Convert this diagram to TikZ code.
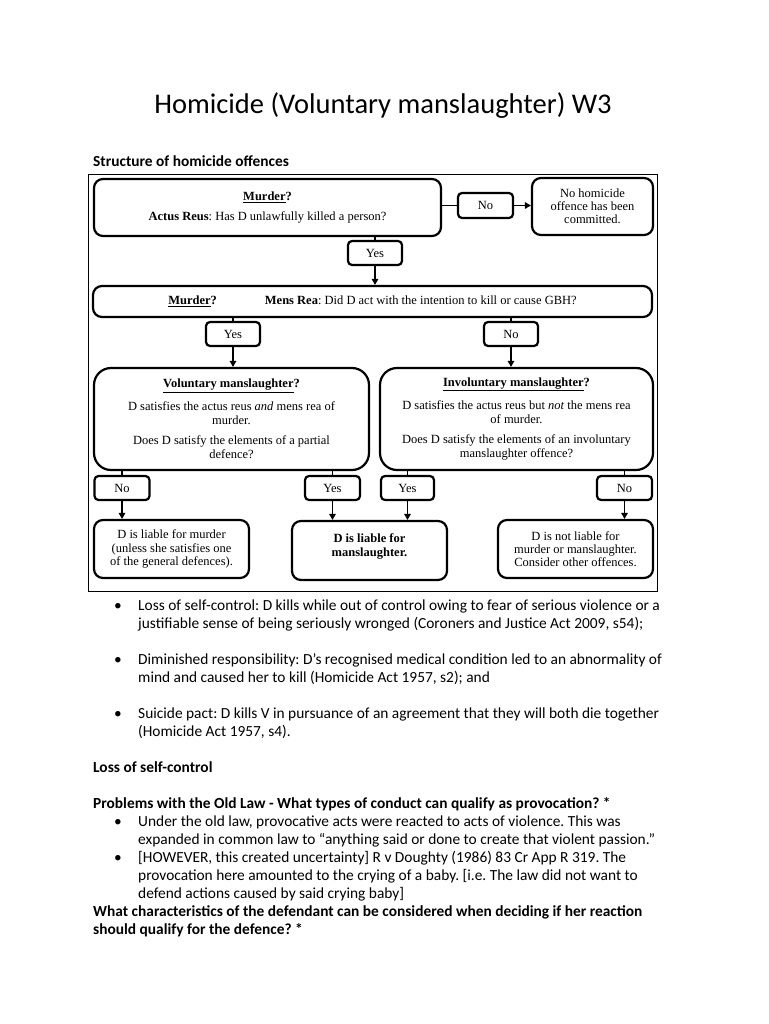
\documentclass[tikz,border=0pt]{standalone}
\usepackage{fontspec}
\setmainfont{Carlito}
\newfontfamily\ser{Liberation Serif}
\usetikzlibrary{arrows.meta}
\frenchspacing
\begin{document}
\begin{tikzpicture}[x=1pt,y=-1pt,
  fc/.style={font=\ser\fontsize{12.5}{13.5}\selectfont},
  box/.style={fc,draw,line width=2.2pt,rounded corners=9pt,align=center,inner sep=0pt},
  bigbox/.style={box,rounded corners=17pt},
  yn/.style={fc,draw,line width=2.2pt,rounded corners=4pt,minimum width=54pt,minimum height=24pt,inner sep=0pt},
  conn/.style={line width=1.7pt},
  arr/.style={line width=1.7pt,-{Triangle[length=6pt,width=6.5pt]}},
  body/.style={anchor=base west,font=\fontsize{15.4}{18}\selectfont,inner sep=0pt},
  bold/.style={body,font=\bfseries\fontsize{15.4}{18}\selectfont},
  bul/.style={anchor=base,font=\fontsize{15.4}{18}\selectfont,inner sep=0pt}
]
\fill[white] (0,0) rectangle (768,1024);
\useasboundingbox (0,0) rectangle (768,1024);

% title and heading
\node[anchor=base,inner sep=0pt,font=\fontsize{28.5}{32}\selectfont] (title) at (383,114) {Homicide (Voluntary manslaughter) W3};
\node[bold] (h1) at (93,167) {Structure of homicide offences};

% frame
\draw[line width=1pt] (88,175) rectangle (657,591);

% row 1
\node[box,minimum width=347pt,minimum height=57pt] (b1) at (267.5,207.5)
  {\underline{\textbf{Murder}}\textbf{?}\\[7pt]\textbf{Actus Reus}: Has D unlawfully killed a person?};
\node[yn,minimum width=55pt,minimum height=25pt] (no1) at (485.5,205.5) {No};
\node[box,minimum width=121pt,minimum height=57pt,font=\ser\fontsize{12.5}{13}\selectfont] (nh) at (592.5,206.5)
  {No homicide\\offence has been\\committed.};
\node[yn] (yes1) at (375,253) {Yes};

% row 2
\node[box,minimum width=559pt,minimum height=31pt] (mr) at (372.5,301.5)
  {\underline{\textbf{Murder}}\textbf{?}\hspace{48pt}\textbf{Mens Rea}: Did D act with the intention to kill or cause GBH?};
\node[yn] (yesL) at (233,334) {Yes};
\node[yn] (noR) at (511,334) {No};

% row 3
\node[bigbox,minimum width=275pt,minimum height=102pt,font=\ser\fontsize{12.5}{14}\selectfont] (vol) at (231.5,419)
  {\underline{\textbf{Voluntary manslaughter}}\textbf{?}\\[9pt]
   D satisfies the actus reus \textit{and} mens rea of\\murder.\\[6pt]
   Does D satisfy the elements of a partial\\defence?};
\node[bigbox,minimum width=273pt,minimum height=102pt,font=\ser\fontsize{12.5}{14}\selectfont] (inv) at (516.5,419)
  {\underline{\textbf{Involuntary manslaughter}}\textbf{?}\\[9pt]
   D satisfies the actus reus but \textit{not} the mens rea\\of murder.\\[6pt]
   Does D satisfy the elements of an involuntary\\manslaughter offence?};

% row 4
\node[yn,minimum width=55pt] (noA) at (122,488) {No};
\node[yn,minimum width=55pt] (yesB) at (332.5,488) {Yes};
\node[yn,minimum width=53pt] (yesC) at (407.5,488) {Yes};
\node[yn,minimum width=55pt] (noD) at (624.5,488) {No};

% row 5
\node[box,minimum width=155pt,minimum height=58pt,font=\ser\fontsize{12.5}{13.5}\selectfont] (bl) at (171.5,549)
  {D is liable for murder\\(unless she satisfies one\\of the general defences).};
\node[box,minimum width=155pt,minimum height=59pt,font=\ser\fontsize{12.5}{14}\selectfont] (mid) at (369.5,550.5)
  {\textbf{D is liable for}\\\textbf{manslaughter.}\\[-3pt]\mbox{}};
\node[box,minimum width=155pt,minimum height=58pt,font=\ser\fontsize{12.5}{13}\selectfont] (br) at (575.5,549)
  {D is not liable for\\murder or manslaughter.\\Consider other offences.};

% connectors
\draw[conn] (b1.east |- no1) -- (no1.west);
\draw[arr] (no1.east) -- (nh.west |- no1);
\draw[conn] (b1.south -| yes1) -- (yes1.north);
\draw[arr] (yes1.south) -- (mr.north -| yes1);
\draw[conn] (mr.south -| yesL) -- (yesL.north);
\draw[arr] (yesL.south) -- (vol.north -| yesL);
\draw[conn] (mr.south -| noR) -- (noR.north);
\draw[arr] (noR.south) -- (inv.north -| noR);
\draw[conn] (vol.south -| noA) -- (noA.north);
\draw[arr] (noA.south) -- (bl.north -| noA);
\draw[conn] (vol.south -| yesB) -- (yesB.north);
\draw[arr] (yesB.south) -- (mid.north -| yesB);
\draw[conn] (inv.south -| yesC) -- (yesC.north);
\draw[arr] (yesC.south) -- (mid.north -| yesC);
\draw[conn] (inv.south -| noD) -- (noD.north);
\draw[arr] (noD.south) -- (br.north -| noD);

% bullet list 1
\node[bul] (bu1) at (118,610) {•};
\node[body] (t1a) at (138,610) {Loss of self-control: D kills while out of control owing to fear of serious violence or a};
\node[body] (t1b) at (138,628) {justifiable sense of being seriously wronged (Coroners and Justice Act 2009, s54);};
\node[bul] (bu2) at (118,664) {•};
\node[body] (t2a) at (138,664) {Diminished responsibility: D’s recognised medical condition led to an abnormality of};
\node[body] (t2b) at (138,682) {mind and caused her to kill (Homicide Act 1957, s2); and};
\node[bul] (bu3) at (118,718) {•};
\node[body] (t3a) at (138,718) {Suicide pact: D kills V in pursuance of an agreement that they will both die together};
\node[body] (t3b) at (138,736) {(Homicide Act 1957, s4).};

% section 2
\node[bold] (h2) at (93,772) {Loss of self-control};
\node[bold] (h3) at (93,808) {Problems with the Old Law - What types of conduct can qualify as provocation? *};
\node[bul] (bu4) at (118,826) {•};
\node[body] (t4a) at (138,826) {Under the old law, provocative acts were reacted to acts of violence. This was};
\node[body] (t4b) at (138,844) {expanded in common law to “anything said or done to create that violent passion.”};
\node[bul] (bu5) at (118,862) {•};
\node[body] (t5a) at (138,862) {[HOWEVER, this created uncertainty] R v Doughty (1986) 83 Cr App R 319. The};
\node[body] (t5b) at (138,880) {provocation here amounted to the crying of a baby. [i.e. The law did not want to};
\node[body] (t5c) at (138,898) {defend actions caused by said crying baby]};
\node[bold] (h4) at (93,916) {What characteristics of the defendant can be considered when deciding if her reaction};
\node[bold] (h5) at (93,934) {should qualify for the defence? *};
\end{tikzpicture}
\end{document}
